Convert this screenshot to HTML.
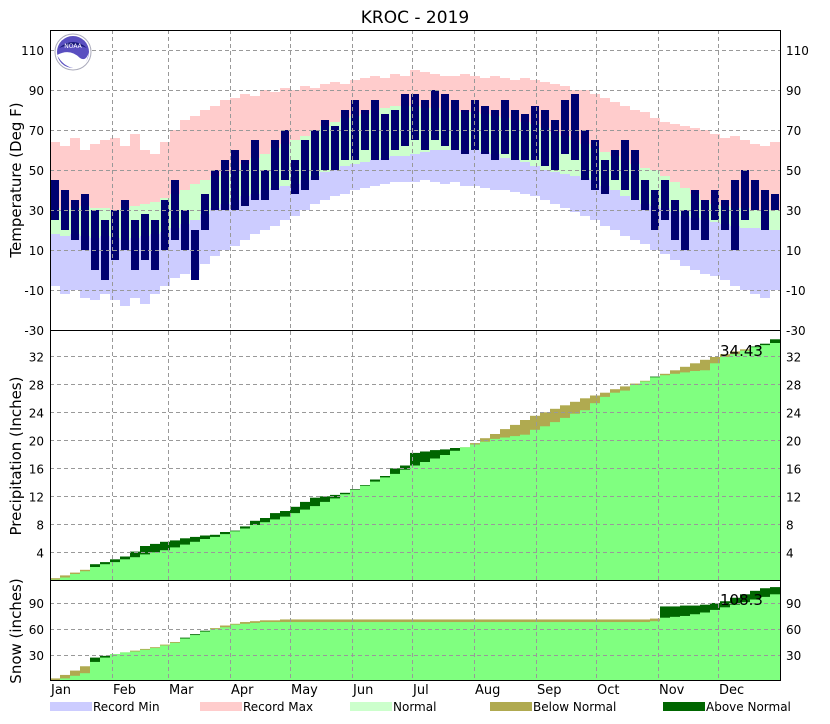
<!DOCTYPE html>
<html><head><meta charset="utf-8"><style>
body{margin:0;background:#fff;width:830px;height:720px;overflow:hidden;font-family:"DejaVu Sans","Liberation Sans",sans-serif}
svg text{font-family:"DejaVu Sans","Liberation Sans",sans-serif}
</style></head><body>
<svg id="c" width="830" height="720" xmlns="http://www.w3.org/2000/svg"></svg>
<script>
const months=["Jan","Feb","Mar","Apr","May","Jun","Jul","Aug","Sep","Oct","Nov","Dec"];
const monthStartDays=[0,31,59,90,120,151,181,212,243,273,304,334];
const tempTicks=[110,90,70,50,30,10,-10,-30];
const precipTicks=[32,28,24,20,16,12,8,4];
const snowTicks=[90,60,30];
// 5-day periods (73)
const recMax=[64,62,66,60,63,65, 66,62,68,60,58,64, 70,75,77,80,82,85, 86,88,87,90,89,91, 90,92,91,93,94,93, 95,96,97,96,98,97, 100,99,98,97,97,98, 97,96,97,96,95,96, 95,94,93,92,90,90, 88,86,84,82,80,79, 76,74,73,72,71,70, 68,66,67,65,63,62,64];
const normHigh=[31,30,31,32,31,31, 30,31,32,33,34,36, 38,40,43,45,47,49, 50,53,56,58,61,63, 65,67,70,72,74,76, 77,78,80,81,82,82, 82,81,81,80,80,79, 79,78,77,76,75,74, 73,71,69,67,65,63, 61,59,57,55,53,51, 50,47,44,41,38,35, 33,32,31,31,30,30,30];
const normLow=[18,17,18,17,16,17, 16,15,16,17,18,19, 21,23,25,28,31,33, 35,37,38,40,41,42, 43,45,47,49,50,52, 53,54,55,56,57,57, 58,59,60,60,60,60, 60,59,58,56,55,54, 52,50,49,48,47,46, 45,42,40,37,35,33, 32,31,29,27,26,25, 24,23,22,21,21,20,20];
const recMin=[-8,-12,-10,-14,-15,-12, -15,-18,-14,-17,-12,-8, -4,-2,0,3,7,10, 12,15,18,20,22,25, 27,30,33,35,37,38, 40,41,42,43,44,44, 44,45,44,43,44,42, 42,41,40,40,39,38, 37,35,33,31,29,27, 25,22,20,17,15,13, 10,8,5,2,0,-2, -3,-5,-8,-10,-12,-14,-10];
const actHigh=[45,40,35,38,30,25, 30,35,25,28,25,35, 45,30,20,38,50,55, 60,55,65,50,65,70, 55,65,70,75,72,80, 85,80,85,78,80,88, 88,85,90,88,85,80, 85,82,80,85,80,78, 82,80,75,85,88,70, 65,55,60,65,60,45, 40,45,35,30,40,35, 40,35,45,50,45,40,38];
const actLow=[25,20,15,10,0,-5, 5,10,0,5,0,10, 15,10,-5,20,30,30, 30,32,35,35,40,45, 38,40,45,50,50,55, 55,60,55,55,60,62, 65,60,65,62,60,58, 60,58,55,58,55,55, 55,52,50,58,55,45, 40,38,45,40,35,30, 20,25,15,10,20,15, 25,20,10,25,30,20,30];
const precipObs=[0.1,0.4,0.9,1.3,2.3,2.6, 3.0,3.4,4.1,4.9,5.2,5.5, 5.7,6.0,6.2,6.4,6.5,6.9, 7.1,7.7,8.5,8.9,9.6,9.9, 10.5,11.2,11.8,12.0,12.2,12.5, 13.0,13.6,14.4,14.9,16.0,16.4, 18.2,18.4,18.6,18.7,18.9,19.0, 19.4,19.8,20.2,20.4,20.6,20.8, 21.5,22.0,22.6,23.2,23.8,24.3, 25.3,26.2,26.8,27.1,27.9,28.4, 29.1,29.3,29.5,29.7,29.9,30.0, 31.0,31.9,32.3,32.8,33.4,33.8,34.43];
const precipNorm=[0.3,0.7,1.1,1.5,1.9,2.3, 2.6,3.0,3.3,3.7,4.0,4.3, 4.7,5.1,5.5,5.9,6.2,6.6, 7.0,7.4,7.9,8.3,8.7,9.1, 9.6,10.1,10.6,11.2,11.7,12.3, 12.9,13.5,14.1,14.7,15.2,15.8, 16.4,16.9,17.4,17.9,18.5,19.0, 19.6,20.3,20.9,21.6,22.2,22.9, 23.5,24.0,24.5,25.0,25.5,26.0, 26.4,26.8,27.3,27.7,28.1,28.5, 29.0,29.5,30.0,30.5,31.0,31.5, 31.9,32.3,32.7,33.0,33.3,33.6,33.9];
const snowObs=[1,3,6,9,27,29, 31,33,34,36,38,41, 44,50,54,58,60,62, 65,66,67,68,68,68, 68,68,68,68,68,68, 68,68,68,68,68,68, 68,68,68,68,68,68, 68,68,68,68,68,68, 68,68,68,68,68,68, 68,68,68,68,68,68, 69,86,86,87,87,88, 90,92,96,100,104,107,108.3];
const snowNorm=[3,7,12,17,22,27, 31,33,35,37,39,42, 45,49,53,57,61,64, 66,68,69,70,70,71, 71,71,71,71,71,71, 71,71,71,71,71,71, 71,71,71,71,71,71, 71,71,71,71,71,71, 71,71,71,71,71,71, 71,71,71,71,71,71, 72,73,74,75,77,79, 82,85,88,91,94,97,100];

const NS="http://www.w3.org/2000/svg";
const svg=document.getElementById('c');
const X0=50,X1=780;
function xDay(d){return X0+d*2;}
function xPer(i){return X0+i*10;}
function yT(t){return 50+(110-t)*2;}
function yP(v){return 580.3-v*7;}
function yS(v){return 681-v*0.867;}
function el(tag,attrs,parent){const e=document.createElementNS(NS,tag);for(const k in attrs)e.setAttribute(k,attrs[k]);(parent||svg).appendChild(e);return e;}
function rect(x,y1,y2,w,fill,parent){const a=Math.min(y1,y2),b=Math.max(y1,y2);return el('rect',{x:x,y:a,width:w,height:Math.max(0,b-a),fill:fill},parent);}

const gT=el('g',{});


for(let i=0;i<73;i++){
  const x=xPer(i);
  let r=rect(x,yT(recMax[i]),yT(normHigh[i]),10,'#ffcccc',gT);
  
  r=rect(x,yT(normHigh[i]),yT(normLow[i]),10,'#ccffcc',gT);
  
  r=rect(x,yT(normLow[i]),yT(recMin[i]),10,'#ccccff',gT);
  
}
for(let i=0;i<73;i++){
  const r=rect(xPer(i)+1,yT(actHigh[i]),yT(actLow[i]),8,'#000070',gT);
  
}
const gP=el('g',{});


for(let i=0;i<73;i++){
  const o=precipObs[i],n=precipNorm[i],x=xPer(i);
  let r=rect(x,yP(Math.max(o,n)),yP(0),10,o>n?'#006600':'#b0aa50',gP);
  
  r=rect(x,yP(Math.min(o,n)),yP(0),10,'#80ff80',gP);
  
}
const gS=el('g',{});


for(let i=0;i<73;i++){
  const o=snowObs[i],n=snowNorm[i],x=xPer(i);
  let r=rect(x,yS(Math.max(o,n)),680,10,o>n?'#006600':'#b0aa50',gS);
  
  r=rect(x,yS(Math.min(o,n)),680,10,'#80ff80',gS);
  
}
const gG=el('g',{stroke:'#999',"stroke-width":1,"stroke-dasharray":"4,3",fill:'none'});


for(let m=1;m<12;m++){const x=xDay(monthStartDays[m])+0.5;el('line',{x1:x,x2:x,y1:30,y2:680},gG);}
tempTicks.forEach(t=>{const y=yT(t)+0.5;el('line',{x1:X0,x2:X1,y1:y,y2:y},gG);});
precipTicks.forEach(t=>{const y=Math.round(yP(t))+0.5;el('line',{x1:X0,x2:X1,y1:y,y2:y},gG);});
snowTicks.forEach(t=>{const y=Math.round(yS(t))+0.5;el('line',{x1:X0,x2:X1,y1:y,y2:y},gG);});
[[30,330],[330,580],[580,680]].forEach(p=>{const f=el('rect',{x:X0+0.5,y:p[0]+0.5,width:X1-X0,height:p[1]-p[0],fill:'none',stroke:'#000'});
});
function label(txt,x,y,anchor,size,name){const t=el('text',{x:x,y:y,"text-anchor":anchor,"font-size":size||12,fill:'#000'});t.textContent=txt;return t;}
tempTicks.forEach(t=>{label(t,44,yT(t)+5,'end',12,'temp-tick-left');label(t,786,yT(t)+5,'start',12,'temp-tick-right');});
precipTicks.forEach(t=>{label(t,44,yP(t)+5,'end',12,'precip-tick-left');label(t,786,yP(t)+5,'start',12,'precip-tick-right');});
snowTicks.forEach(t=>{label(t,44,yS(t)+5,'end',12,'snow-tick-left');label(t,786,yS(t)+5,'start',12,'snow-tick-right');});
months.forEach((m,i)=>label(m,xDay(monthStartDays[i])+1,694,'start',13,'month-label'));
label('KROC - 2019',415,23,'middle',17,'chart-title');
label('34.43',720,356,'start',15,'precip-total');
label('108.3',720,605,'start',15,'snow-total');
function ylab(txt,cy,name){const t=el('text',{x:0,y:0,"text-anchor":'middle',"font-size":15,transform:`translate(21,${cy}) rotate(-90)`});t.textContent=txt;}
ylab('Temperature (Deg F)',180,'temp-axis-title');
ylab('Precipitation (Inches)',456,'precip-axis-title');
ylab('Snow (inches)',631,'snow-axis-title');
const legend=[['Record Min','#ccccff',50],['Record Max','#ffcccc',200],['Normal','#ccffcc',350],['Below Normal','#b0aa50',490],['Above Normal','#006600',663]];
legend.forEach(l=>{const r=el('rect',{x:l[2],y:702,width:42,height:9,fill:l[1]});
label(l[0],l[2]+43,711,'start',12,'legend-entry');});
const lg=el('g',{});


el('circle',{cx:73,cy:52,r:18,fill:'#fff',stroke:'#aab','stroke-width':1},lg);
el('circle',{cx:73,cy:52,r:16,fill:'#5a4fc0'},lg);
el('path',{d:'M57,55 Q70,48 80,58 Q86,62 89,52 Q86,70 73,68 Q63,66 57,55Z',fill:'#fff'},lg);
el('path',{d:'M59,48 Q73,36 87,48 Q73,42 59,48Z',fill:'#1a1a7a'},lg);
const nt=el('text',{x:73,y:48,"text-anchor":'middle',"font-size":6,fill:'#fff'},lg);nt.textContent='NOAA';
</script>
</body></html>
